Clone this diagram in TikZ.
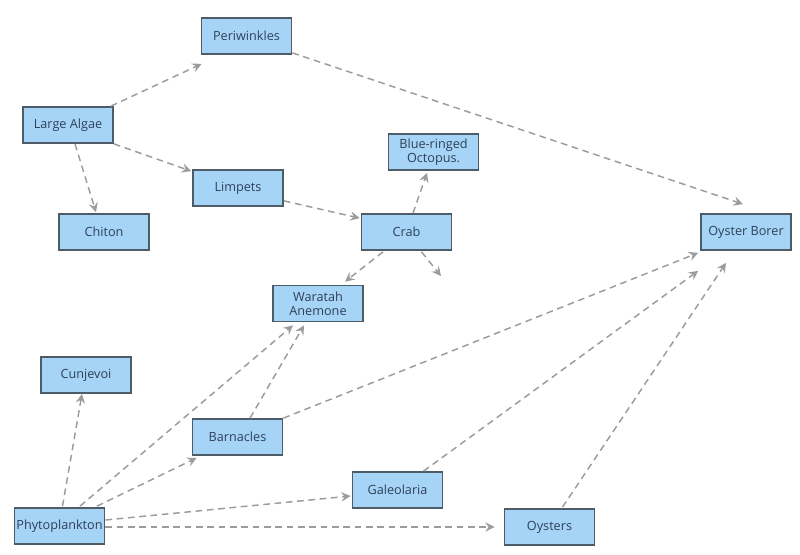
\documentclass[tikz,border=0pt]{standalone}
\usepackage{fontspec}
\setmainfont{Open Sans}
\usetikzlibrary{arrows.meta,calc}
\definecolor{boxfill}{HTML}{A6D4F7}
\definecolor{boxline}{HTML}{4E5C68}
\definecolor{txt}{HTML}{2E4058}
\definecolor{link}{HTML}{9C9C9C}
\begin{document}
\begin{tikzpicture}[x=0.75pt,y=-0.75pt,
  species/.style={draw=boxline,line width=1.3pt,fill=boxfill,text=txt,
    minimum width=67.5pt,minimum height=27pt,inner sep=1pt,align=center,
    font=\fontsize{9.5}{10.5}\selectfont},
  eats/.style={draw=link,line width=1.1pt,dash pattern=on 5pt off 3.5pt,
    -{Stealth[length=7pt,width=7pt,inset=2.5pt]}}]
\useasboundingbox[fill=white] (0,0) rectangle (800,554);
\node[species] (peri) at (246.5,36) {Periwinkles};
\node[species] (algae) at (68,125) {Large Algae};
\node[species] (limpets) at (238,188) {Limpets};
\node[species] (chiton) at (104,232) {Chiton};
\node[species] (octopus) at (433.5,152) {Blue-ringed\\Octopus.};
\node[species] (crab) at (406.5,232) {Crab};
\node[species] (borer) at (746,232) {Oyster Borer};
\node[species] (waratah) at (318,303.5) {Waratah\\Anemone};
\node[species] (cunjevoi) at (86,375) {Cunjevoi};
\node[species] (barnacles) at (237.5,437) {Barnacles};
\node[species] (phyto) at (59.5,526) {Phytoplankton};
\node[species] (galeo) at (397.5,490) {Galeolaria};
\node[species] (oysters) at (549.5,527) {Oysters};
\coordinate (loose) at (441,276);
\draw[eats] ($(algae.north east)+(-3,0)$) -- ($(peri.south west)+(1,9)$);
\draw[eats] (algae.south east) -- ($(limpets.north west)+(-1,2)$);
\draw[eats] ($(algae.south)+(7,0)$) -- ($(chiton.north)+(-8,-1)$);
\draw[eats] ($(peri.south east)+(0,-2)$) -- ($(borer.north)+(-3,-9)$);
\draw[eats] ($(limpets.south east)+(0,-6)$) -- ($(crab.north west)+(-1,5)$);
\draw[eats] ($(crab.north)+(6.5,0)$) -- ($(octopus.south)+(-6.5,2)$);
\draw[eats] ($(crab.south)+(-23.5,1)$) -- ($(waratah.north)+(27,-3)$);
\draw[eats] ($(crab.south)+(15,1)$) -- (loose);
\draw[eats] ($(phyto.north)+(3,-1)$) -- ($(cunjevoi.south)+(-4,0)$);
\draw[eats] ($(phyto.north)+(20.5,-1)$) -- ($(waratah.south)+(-25,3)$);
\draw[eats] ($(phyto.north)+(37.5,-1)$) -- ($(barnacles.south west)+(5,2)$);
\draw[eats] ($(phyto.east)+(0,-6)$) -- ($(galeo.west)+(-1,6)$);
\draw[eats] ($(phyto.east)+(0,1)$) -- ($(oysters.west)+(-9,0)$);
\draw[eats] ($(barnacles.north)+(12.5,0)$) -- ($(waratah.south)+(-14,3)$);
\draw[eats] (barnacles.north east) -- ($(borer.south west)+(-2,2)$);
\draw[eats] ($(galeo.north)+(26,0)$) -- ($(borer.south west)+(-2,20)$);
\draw[eats] ($(oysters.north)+(13,-1)$) -- ($(borer.south)+(-20,12)$);
\end{tikzpicture}
\end{document}
